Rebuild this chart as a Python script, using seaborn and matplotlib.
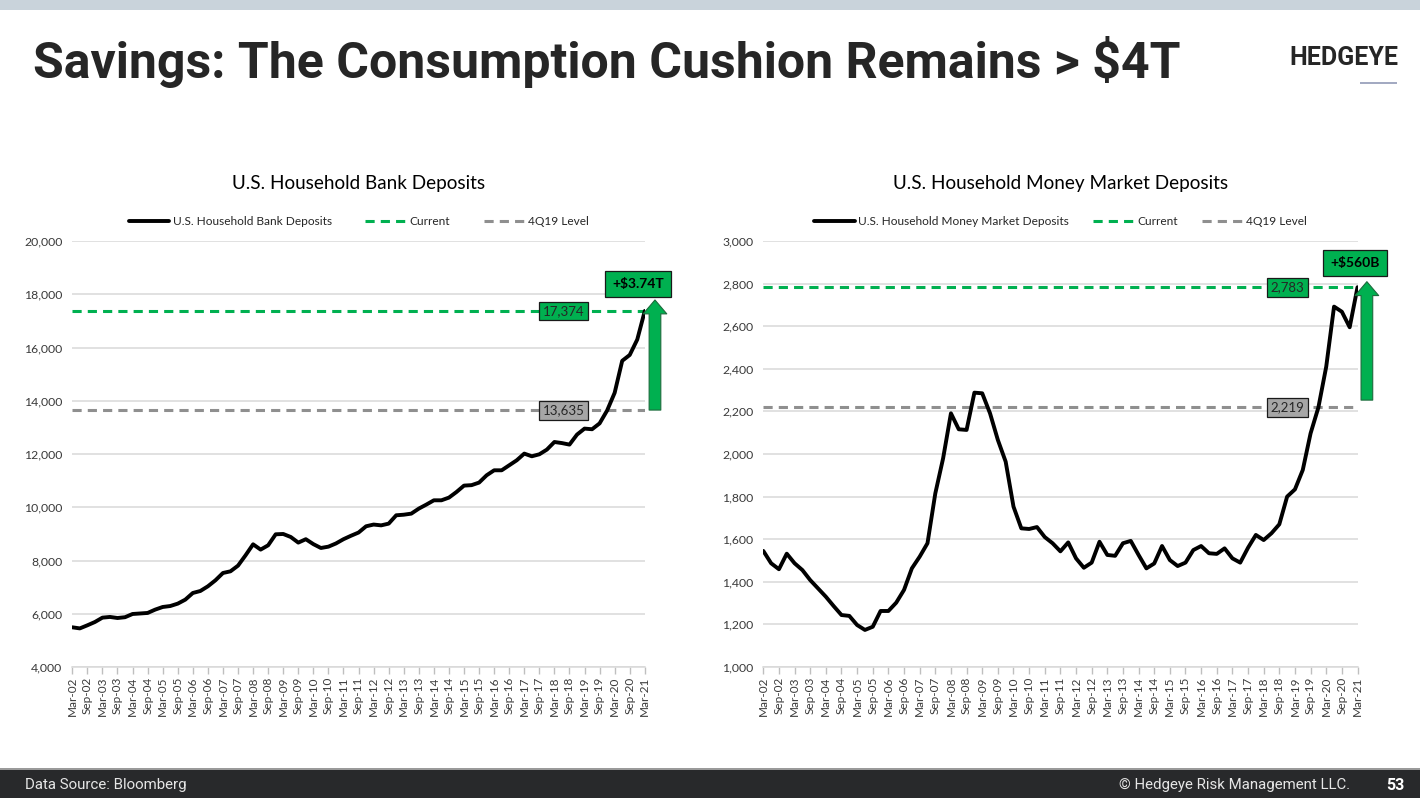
import matplotlib
matplotlib.use("Agg")
import matplotlib.pyplot as plt
from matplotlib.lines import Line2D
from matplotlib.patches import Rectangle
import pandas as pd
import seaborn as sns

# quarterly observations, Mar-02 .. Mar-21
quarters = [f"{m}-{y:02d}" for y in range(2, 22) for m in ("Mar", "Jun", "Sep", "Dec")][:77]

bank_deposits = [
    5491, 5450, 5566, 5690,      # 2002
    5854, 5880, 5840, 5870,      # 2003
    5991, 6010, 6030, 6155,      # 2004
    6254, 6290, 6380, 6530,      # 2005
    6780, 6855, 7031, 7256,      # 2006
    7531, 7594, 7807, 8195,      # 2007
    8608, 8409, 8571, 8984,      # 2008
    8996, 8883, 8672, 8800,      # 2009
    8615, 8470, 8520, 8640,      # 2010
    8800, 8930, 9050, 9285,      # 2011
    9350, 9320, 9385, 9698,      # 2012
    9720, 9760, 9949, 10100,     # 2013
    10261, 10261, 10362, 10573,  # 2014
    10813, 10830, 10926, 11200,  # 2015
    11388, 11388, 11576, 11764,  # 2016
    12015, 11914, 11989, 12165,  # 2017
    12451, 12410, 12353, 12729,  # 2018
    12954, 12930, 13150, 13635,  # 2019
    14300, 15500, 15720, 16300,  # 2020
    17374,                       # 2021
]

money_market = [
    1545, 1487, 1459, 1532,
    1487, 1455, 1408, 1369,
    1330, 1286, 1244, 1240,
    1197, 1174, 1189, 1263,
    1263, 1302, 1362, 1463,
    1518, 1581, 1815, 1980,
    2191, 2116, 2113, 2288,
    2285, 2191, 2066, 1964,
    1753, 1651, 1648, 1657,
    1610, 1581, 1543, 1585,
    1510, 1466, 1490, 1588,
    1526, 1522, 1581, 1592,
    1526, 1463, 1486, 1568,
    1502, 1474, 1490, 1549,
    1568, 1534, 1531, 1557,
    1510, 1490, 1560, 1620,
    1596, 1628, 1670, 1800,
    1834, 1925, 2097, 2219,
    2410, 2692, 2668, 2595,
    2783,
]

bank_current, bank_4q19 = 17374, 13635
mm_current, mm_4q19 = 2783, 2219
bank_change_label = "+$3.74T"
mm_change_label = "+$560B"

GREEN = "#00B050"
GRAY = "#8f8f8f"
GRID = "#d9d9d9"
TXT = "#262626"

sns.set_theme(style="white")
plt.rcParams["font.family"] = ["Lato", "DejaVu Sans"]

W, H = 1420, 798
fig = plt.figure(figsize=(W / 100, H / 100), dpi=100)


def px_axes(x0, x1, ytop, ybot):
    return fig.add_axes([x0 / W, 1 - ybot / H, (x1 - x0) / W, (ybot - ytop) / H])


def panel(ax, values, name, title, current, level, ylo, yhi, ystep,
          box_q, change_label, change_xy, arrow_q, arrow_lo, arrow_hi, colspace):
    df = pd.DataFrame({"q": range(len(values)), "value": values})
    ax.axhline(current, color=GREEN, lw=2.2, dashes=(3, 2), zorder=2)
    ax.axhline(level, color=GRAY, lw=2.2, dashes=(3, 2), zorder=2)
    sns.lineplot(data=df, x="q", y="value", ax=ax, color="black", lw=2.8,
                 zorder=3, legend=False)

    ax.set_xlim(0, len(values) - 1)
    ax.set_ylim(ylo, yhi)
    ax.set_yticks(range(ylo, yhi + 1, ystep))
    ax.set_yticklabels([f"{v:,}" for v in range(ylo, yhi + 1, ystep)])
    ax.set_xticks(range(0, len(values), 2))
    ax.set_xticklabels(quarters[::2], rotation=90)
    ax.set_xlabel("")
    ax.set_ylabel("")
    ax.grid(axis="y", color=GRID, lw=1.1)
    ax.grid(axis="x", visible=False)
    for s in ("top", "right", "left"):
        ax.spines[s].set_visible(False)
    ax.spines["bottom"].set_color(GRID)
    ax.spines["bottom"].set_linewidth(1.1)
    ax.tick_params(axis="y", length=0, pad=7, labelsize=8.8, labelcolor="#3a3a3a")
    ax.tick_params(axis="x", length=5, width=1, color="#bfbfbf", direction="out",
                   pad=2, labelsize=8.5, labelcolor="#3a3a3a", bottom=True)

    ax.text(box_q, current, f"{current:,}", ha="center", va="center", fontsize=9.5,
            color=TXT, zorder=5,
            bbox=dict(boxstyle="square,pad=0.25", fc=GREEN, ec="#1a1a1a", lw=0.9))
    ax.text(box_q, level, f"{level:,}", ha="center", va="center", fontsize=9.5,
            color=TXT, zorder=5,
            bbox=dict(boxstyle="square,pad=0.25", fc="#a6a6a6", ec="#1a1a1a", lw=0.9))
    ax.text(change_xy[0], change_xy[1], change_label, ha="center", va="center",
            fontsize=10, fontweight="bold", color="black", zorder=5,
            bbox=dict(boxstyle="square,pad=0.5", fc=GREEN, ec="#1a1a1a", lw=0.9))
    ax.annotate("", xy=(arrow_q, arrow_hi), xytext=(arrow_q, arrow_lo),
                annotation_clip=False, zorder=5,
                arrowprops=dict(arrowstyle="simple,head_length=0.5,head_width=0.85,tail_width=0.42",
                                mutation_scale=20, fc=GREEN, ec="#1c6b3c", lw=0.8,
                                shrinkA=0, shrinkB=0))

    ax.text(0.5, 1.134, title, transform=ax.transAxes, ha="center", va="center",
            fontsize=13.6, color="black")
    handles = [
        Line2D([], [], color="black", lw=2.8),
        Line2D([], [], color=GREEN, lw=2.2, dashes=(3, 2)),
        Line2D([], [], color=GRAY, lw=2.2, dashes=(3, 2)),
    ]
    ax.legend(handles, [name, "Current", "4Q19 Level"], loc="center",
              bbox_to_anchor=(0.5, 1.046), ncol=3, frameon=False, fontsize=8.6,
              handlelength=3.4, handletextpad=0.3, columnspacing=colspace)


ax1 = px_axes(72.3, 644.8, 241, 667)
panel(ax1, bank_deposits, "U.S. Household Bank Deposits", "U.S. Household Bank Deposits",
      bank_current, bank_4q19, 4000, 20000, 2000,
      65.2, bank_change_label, (75.1, 18385), 77.35, 13650, 17785, 2.8)

ax2 = px_axes(763.3, 1357.5, 241, 667)
panel(ax2, money_market, "U.S. Household Money Market Deposits",
      "U.S. Household Money Market Deposits",
      mm_current, mm_4q19, 1000, 3000, 200,
      67.06, mm_change_label, (75.7, 2898), 77.2, 2253, 2809, 2.0)

# slide furniture
fig.add_artist(Rectangle((0, 1 - 10 / H), 1, 10 / H, transform=fig.transFigure,
                         fc="#c9d3db", ec="none"))
fig.add_artist(Rectangle((0, 0), 1, 28 / H, transform=fig.transFigure,
                         fc="#28292b", ec="none"))
fig.add_artist(Rectangle((0, 28 / H), 1, 2 / H, transform=fig.transFigure,
                         fc="#9a9a9a", ec="none"))
fig.add_artist(Rectangle((1360 / W, 1 - 84 / H), 37 / W, 2 / H, transform=fig.transFigure,
                         fc="#a3aac2", ec="none"))

fig.text(33 / W, 1 - 62 / H, "Savings: The Consumption Cushion Remains > $4T",
         ha="left", va="center", fontsize=36, fontweight="bold", color=TXT,
         family=["Roboto", "DejaVu Sans"])
fig.text(1398 / W, 1 - 58 / H, "HEDGEYE", ha="right", va="center", fontsize=18,
         fontweight="bold", color=TXT, family=["Roboto", "DejaVu Sans"])
fig.text(25 / W, 13 / H, "Data Source: Bloomberg", ha="left", va="center",
         fontsize=10.8, color="#e6e6e6", family=["Roboto", "DejaVu Sans"])
fig.text(1350 / W, 13 / H, "\u00a9 Hedgeye Risk Management LLC.", ha="right",
         va="center", fontsize=10.8, color="#e6e6e6", family=["Roboto", "DejaVu Sans"])
fig.text(1395 / W, 13 / H, "53", ha="center", va="center", fontsize=11.5,
         fontweight="bold", color="white", family=["Roboto", "DejaVu Sans"])

fig.savefig("out.png", dpi=100)
